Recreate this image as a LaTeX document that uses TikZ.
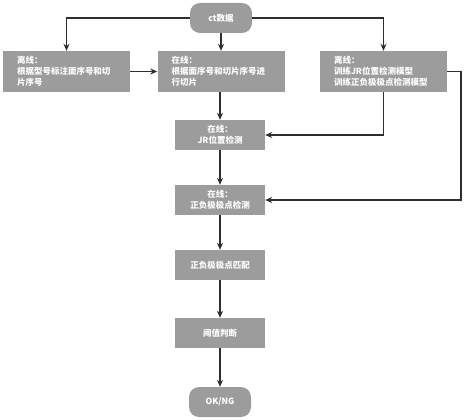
\documentclass[tikz,border=0pt]{standalone}
\usepackage{fontspec}
\usepackage{xcolor}
\usetikzlibrary{positioning,shapes.geometric,fit,arrows.meta}
\newfontfamily\cjk{Noto Sans CJK SC}
\definecolor{boxgray}{HTML}{9C9C9C}
\definecolor{linegray}{HTML}{2E2E2E}

\begin{document}
\begin{tikzpicture}[x=1pt,y=-1pt,
    every node/.style={font=\cjk\bfseries\fontsize{8.5}{11}\selectfont, text=white},
    topbox/.style={fill=boxgray, minimum width=127pt, minimum height=41pt,
      text width=99pt, inner xsep=14pt, align=left},
    stepbox/.style={fill=boxgray, minimum width=90pt, minimum height=30pt, align=center},
    endbox/.style={fill=boxgray, rounded corners=10pt, minimum width=62pt, minimum height=30pt},
    arrow/.style={draw=linegray, line width=1.4pt, -{Stealth[length=7pt,width=6pt]}}]
      \useasboundingbox (0,0) rectangle (474,420);

      % Define the start node and the three boxes of the first row
      \node[endbox] (ct) at (221,18) {ct数据};
      \node[topbox] (label) at (66.5,71.5) {离线：\\根据型号标注面序号和切\\片序号};
      \node[topbox] (slice) at (221,71.5) {在线：\\根据面序号和切片序号进\\行切片};
      \node[topbox] (train) at (383.5,71.5) {离线：\\训练JR位置检测模型\\训练正负极极点检测模型};

      % Define the steps of the online column
      \node[stepbox] (jr) at (220,135) {在线：\\JR位置检测};
      \node[stepbox] (pole) at (220,200) {在线：\\正负极极点检测};
      \node[stepbox] (match) at (220,265) {正负极极点匹配};
      \node[stepbox] (thres) at (220,333) {阈值判断};
      \node[endbox] (ok) at (220,402) {OK/NG};
      \coordinate (turn) at (461,71.5);

      % Draw the arrows from the start node
      \draw[arrow] (ct.west) -| (label.north);
      \draw[arrow] (ct.south) -- (slice.north);
      \draw[arrow] (ct.east) -| (train.north);
      \draw[arrow] (label.east) -- (slice.west);

      % Draw the arrows of the online column
      \draw[arrow] (slice.south -| jr.north) -- (jr.north);
      \draw[arrow] (train.south) |- (jr.east);
      \draw[arrow] (train.east) -- (turn) |- (pole.east);
      \draw[arrow] (jr) -- (pole);
      \draw[arrow] (pole) -- (match);
      \draw[arrow] (match) -- (thres);
      \draw[arrow] (thres) -- (ok);
\end{tikzpicture}
\end{document}
